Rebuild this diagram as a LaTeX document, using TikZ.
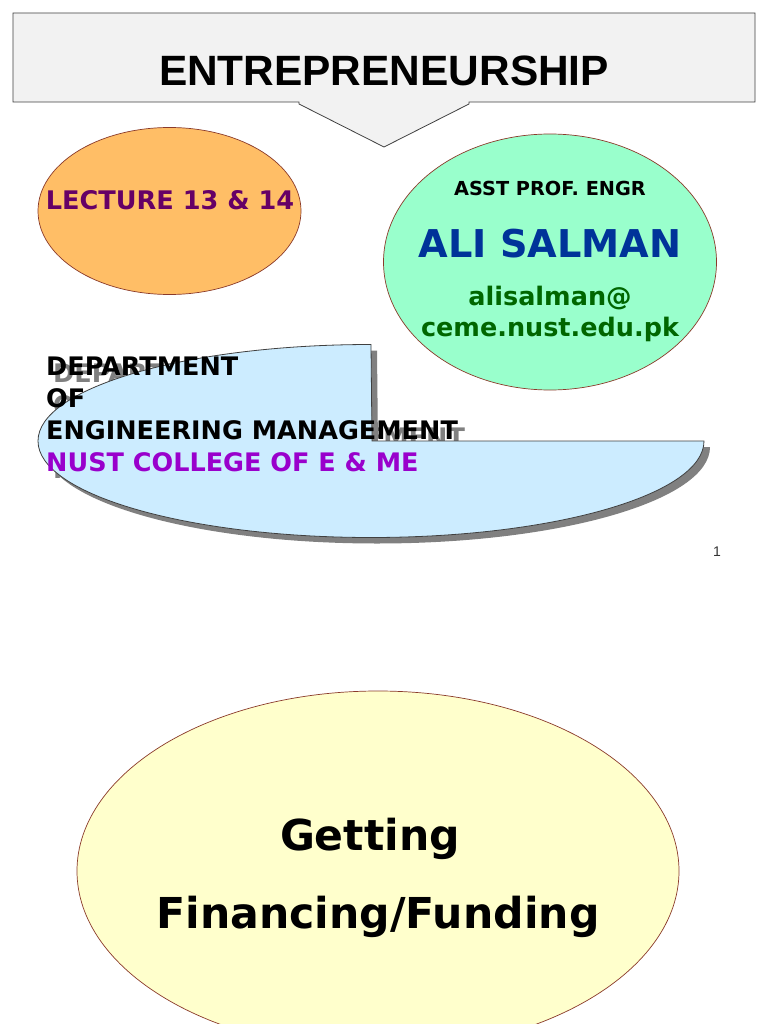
\documentclass[tikz,border=0pt]{standalone}
\usepackage{fontspec}
\setmainfont{DejaVu Sans}
\newfontfamily\titlefont{Liberation Sans}
\usetikzlibrary{shapes.geometric}
\definecolor{titlefill}{HTML}{F2F2F2}
\definecolor{orangefill}{HTML}{FFBE66}
\definecolor{greenfill}{HTML}{99FFCC}
\definecolor{bluefill}{HTML}{CCECFF}
\definecolor{yellowfill}{HTML}{FFFFCC}
\definecolor{rimred}{HTML}{8A3A2A}
\definecolor{lecturecol}{HTML}{660066}
\definecolor{namecol}{HTML}{003399}
\definecolor{mailcol}{HTML}{006600}
\definecolor{nustcol}{HTML}{9900CC}
\tikzset{
  blob/.style={ellipse,draw=rimred,line width=0.7pt,inner sep=0pt},
  label/.style={font=\bfseries\fontsize{#1}{#1}\selectfont,inner sep=0pt},
  deptline/.style={font=\bfseries\fontsize{25.5}{25.5}\selectfont,inner sep=0pt,anchor=base west},
  shadowcol/.style={text=black!50}
}
\begin{document}
\begin{tikzpicture}[x=1pt,y=-1pt]
\useasboundingbox (0,0) rectangle (768,1024);
\fill [white] (0,0) rectangle (768,1024);
% title callout
\draw [fill=titlefill,draw=black!75,line width=0.8pt] (13,13) -- (755,13) -- (755,102) -- (469,102)
  -- (469,104) -- (384,147) -- (299,104) -- (299,102) -- (13,102) -- cycle;
\node (title) [font=\titlefont\bfseries\fontsize{42.4}{42.4}\selectfont,inner sep=0pt] at (384,71) {ENTREPRENEURSHIP};
% ellipses
\node (lectureblob) [blob,fill=orangefill,minimum width=263pt,minimum height=167pt] at (169.5,211) {};
\node (lecture) [label=25.6,text=lecturecol] at (170,200) {LECTURE 13 \& 14};
\node (nameblob) [blob,fill=greenfill,minimum width=333pt,minimum height=256pt] at (550,262) {};
\node (rank) [label=19.3,text=black] at (550,188) {ASST PROF. ENGR};
\node (name) [label=38.3,text=namecol] at (550,244) {ALI SALMAN};
\node (mail) [label=25.5,text=mailcol] at (550,298) {alisalman@};
\node (host) [label=25.5,text=mailcol] at (550,329) {ceme.nust.edu.pk};
% text shadow goes under the pie
\node (shadowa) [deptline,shadowcol] at (53,382) {DEPARTMENT};
\node (shadowb) [deptline,shadowcol] at (53,414) {OF};
\node (shadowc) [deptline,shadowcol] at (53,446) {ENGINEERING MANAGEMENT};
\node (shadowd) [deptline,shadowcol] at (53,478) {NUST COLLEGE OF E \& ME};
% pie
\fill [black!50,shift={(6,6)}] (372,441) -- (704,441) arc [start angle=0,end angle=-270,x radius=333pt,y radius=96.5pt] -- cycle;
\draw [fill=bluefill,draw=black!75,line width=0.8pt] (372,441) -- (704,441) arc [start angle=0,end angle=-270,x radius=333pt,y radius=96.5pt] -- cycle;
\node (depta) [deptline] at (46,375) {DEPARTMENT};
\node (deptb) [deptline] at (46,407) {OF};
\node (deptc) [deptline] at (46,439) {ENGINEERING MANAGEMENT};
\node (deptd) [deptline,text=nustcol] at (46,471) {NUST COLLEGE OF E \& ME};
\node (pageno) [font=\titlefont\fontsize{14}{14}\selectfont,inner sep=0pt,text=black!80] at (717,552) {1};
% second slide
\node (fundblob) [blob,fill=yellowfill,minimum width=602pt,minimum height=360pt] at (378,871) {};
\node (getting) [label=42.6,text=black] at (370,839) {Getting};
\node (funding) [label=42.6,text=black] at (378,917) {Financing/Funding};
\end{tikzpicture}
\end{document}
